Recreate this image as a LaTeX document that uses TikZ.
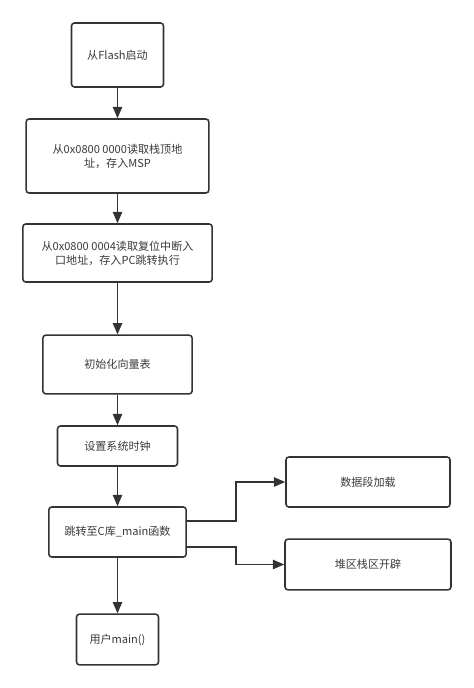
\documentclass[tikz,border=0pt]{standalone}
\usepackage{fontspec}
\setmainfont{Noto Sans CJK SC}
\usetikzlibrary{arrows.meta}
\definecolor{linec}{HTML}{333333}
\definecolor{textc}{HTML}{3A3A3A}
\begin{document}
\begin{tikzpicture}[x=0.75pt,y=-0.75pt,
  box/.style={draw=linec, line width=1.15pt, rounded corners=2.2pt, rectangle,
    inner sep=0pt, align=center, text=textc, font=\fontsize{8.3pt}{10.5pt}\selectfont},
  arr/.style={draw=linec, line width=1.1pt, -{Triangle[length=8.5pt,width=7pt]}}]
\fill[white] (0,0) rectangle (474,688);
\useasboundingbox (0,0) rectangle (474,688);
\node[box, minimum width=69pt, minimum height=48pt] (b1) at (117.5,55) {从Flash启动};
\node[box, minimum width=137pt, minimum height=55.5pt] (b2) at (117.5,156) {从0x0800 0000读取栈顶地\\址，存入MSP};
\node[box, minimum width=142pt, minimum height=43.5pt] (b3) at (117.5,253) {从0x0800 0004读取复位中断入\\口地址，存入PC跳转执行};
\node[box, minimum width=112pt, minimum height=44pt] (b4) at (117.5,364.5) {初始化向量表};
\node[box, minimum width=90pt, minimum height=30pt] (b5) at (117.5,446) {设置系统时钟};
\node[box, minimum width=103pt, minimum height=37.5pt] (b6) at (117.5,532) {跳转至C库\_main函数};
\node[box, minimum width=61.5pt, minimum height=38pt] (b7) at (117.5,639.5) {用户main()};
\node[box, minimum width=123pt, minimum height=37.5pt] (b8) at (368,482) {数据段加载};
\node[box, minimum width=124.5pt, minimum height=38pt] (b9) at (368,564.5) {堆区栈区开辟};
\draw[arr] (b1) -- (b2);
\draw[arr] (b2) -- (b3);
\draw[arr] (b3) -- (b4);
\draw[arr] (b4) -- (b5);
\draw[arr] (b5) -- (b6);
\draw[arr] (b6) -- (b7);
\draw[arr] ([yshift=8.25pt]b6.east) -- ++(49,0) |- (b8.west);
\draw[arr] ([yshift=-11.25pt]b6.east) -- ++(49,0) |- (b9.west);
\end{tikzpicture}
\end{document}
